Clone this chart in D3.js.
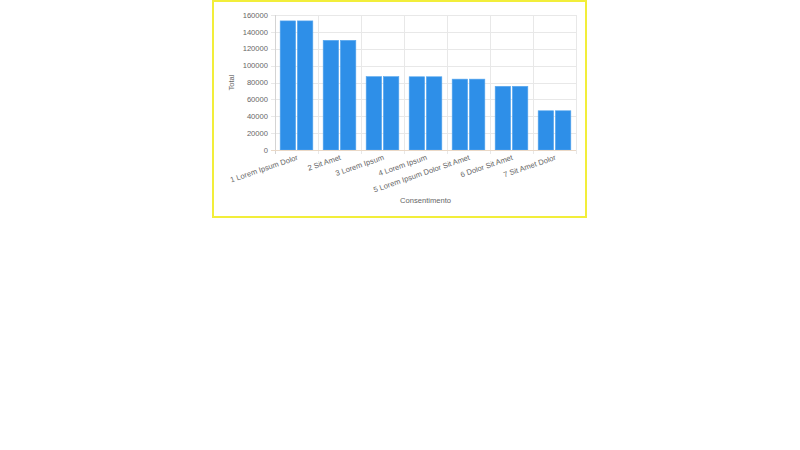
<!DOCTYPE html>
<html>
<head>
<meta charset="utf-8">
<script src="https://cdn.jsdelivr.net/npm/d3@7"></script>
<style>
  body { margin: 0; background: #fff; }
  svg text { font-family: "Liberation Sans", Arial, sans-serif; fill: #666; }
</style>
</head>
<body>
<svg id="chart" width="800" height="450"></svg>
<script>
var categories = ["1 Lorem Ipsum Dolor", "2 Sit Amet", "3 Lorem Ipsum", "4 Lorem Ipsum",
                  "5 Lorem Ipsum Dolor Sit Amet", "6 Dolor Sit Amet", "7 Sit Amet Dolor"];
var seriesA = [153000, 130000, 87000, 86800, 84000, 75500, 46500];
var seriesB = [153000, 130000, 87000, 86800, 84000, 75500, 46500];
var yTicks = [0, 20000, 40000, 60000, 80000, 100000, 120000, 140000, 160000];

var svg = d3.select("#chart");

// yellow frame round the chart
svg.append("rect")
    .attr("x", 213).attr("y", 1)
    .attr("width", 373).attr("height", 216)
    .attr("fill", "none")
    .attr("stroke", "#f2ee3a")
    .attr("stroke-width", 2);

var plotLeft = 275, plotRight = 576, plotTop = 15, plotBottom = 150;
var fs = 7.6;

var x = d3.scaleBand().domain(categories).range([plotLeft, plotRight]);
var inner = d3.scaleBand().domain([0, 1]).range([0, x.bandwidth() * 0.8]).paddingInner(0.1).paddingOuter(0.05);
var y = d3.scaleLinear().domain([0, 160000]).range([plotBottom, plotTop]);

var g = svg.append("g");

// horizontal grid
g.selectAll("line.hgrid").data(yTicks).enter().append("line")
    .attr("class", "hgrid")
    .attr("x1", plotLeft - 4).attr("x2", plotRight)
    .attr("y1", function(d) { return Math.round(y(d)) + 0.5; })
    .attr("y2", function(d) { return Math.round(y(d)) + 0.5; })
    .attr("stroke", "#e8e8e8");

// vertical grid at category edges
var edges = categories.map(function(c) { return x(c); }).concat([plotRight]);
g.selectAll("line.vgrid").data(edges).enter().append("line")
    .attr("class", "vgrid")
    .attr("x1", function(d) { return Math.round(d) + 0.5; })
    .attr("x2", function(d) { return Math.round(d) + 0.5; })
    .attr("y1", plotTop).attr("y2", plotBottom + 4)
    .attr("stroke", "#e8e8e8");

// y axis line
g.append("line")
    .attr("x1", plotLeft + 0.5).attr("x2", plotLeft + 0.5)
    .attr("y1", plotTop).attr("y2", plotBottom + 4)
    .attr("stroke", "#d4d4d4");

// bars
var data = [];
categories.forEach(function(c, i) {
  data.push({cat: c, k: 0, v: seriesA[i]});
  data.push({cat: c, k: 1, v: seriesB[i]});
});
g.selectAll("rect.bar").data(data).enter().append("rect")
    .attr("class", "bar")
    .attr("x", function(d) { return x(d.cat) + x.bandwidth() * 0.1 + inner(d.k); })
    .attr("width", inner.bandwidth())
    .attr("y", function(d) { return y(d.v); })
    .attr("height", function(d) { return plotBottom - y(d.v); })
    .attr("fill", "#2e8fe8")
    .attr("stroke", "#5aa8ee")
    .attr("stroke-width", 0.6);

// x baseline
g.append("line")
    .attr("x1", plotLeft - 4).attr("x2", plotRight)
    .attr("y1", plotBottom + 0.5).attr("y2", plotBottom + 0.5)
    .attr("stroke", "#ead8c6");

// y tick labels
g.selectAll("text.ytick").data(yTicks).enter().append("text")
    .attr("class", "ytick")
    .attr("x", plotLeft - 7)
    .attr("y", function(d) { return y(d); })
    .attr("dy", "0.35em")
    .attr("text-anchor", "end")
    .attr("font-size", fs)
    .text(function(d) { return d; });

// x tick labels, rotated
g.selectAll("text.xtick").data(categories).enter().append("text")
    .attr("class", "xtick")
    .attr("text-anchor", "end")
    .attr("font-size", fs)
    .attr("transform", function(d) {
      return "translate(" + (x(d) + x.bandwidth() / 2 + 1) + "," + (plotBottom + 7) + ") rotate(-19)";
    })
    .attr("dy", "0.35em")
    .text(function(d) { return d; });

// axis titles
svg.append("text")
    .attr("transform", "translate(234," + ((plotTop + plotBottom) / 2) + ") rotate(-90)")
    .attr("text-anchor", "middle")
    .attr("font-size", fs)
    .text("Total");

svg.append("text")
    .attr("x", (plotLeft + plotRight) / 2)
    .attr("y", 203)
    .attr("text-anchor", "middle")
    .attr("font-size", fs)
    .text("Consentimento");
</script>
</body>
</html>
